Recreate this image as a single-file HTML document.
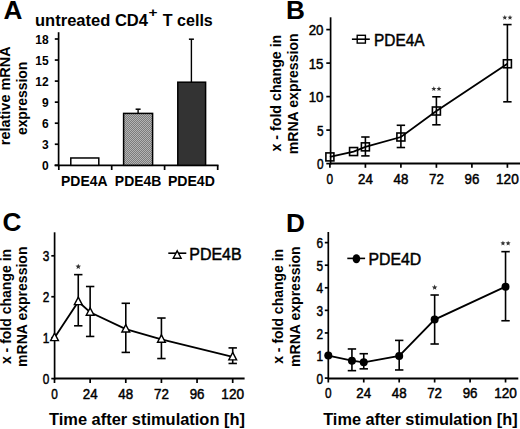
<!DOCTYPE html>
<html><head><meta charset="utf-8"><style>
html,body{margin:0;padding:0;background:#fff;width:520px;height:429px;overflow:hidden}
svg{display:block}
text{font-family:"Liberation Sans", sans-serif}
</style></head><body>
<svg width="520" height="429" viewBox="0 0 520 429">
<defs>
<pattern id="chk" width="2" height="2" patternUnits="userSpaceOnUse">
<rect width="2" height="2" fill="#7c7c7c"/><rect width="1" height="1" fill="#b4b4b4"/><rect x="1" y="1" width="1" height="1" fill="#b4b4b4"/>
</pattern>
</defs>
<text x="3.4" y="18.9" font-size="26.2" font-weight="bold" text-anchor="start" fill="#000">A</text>
<text x="35" y="25.7" font-size="16.5" font-weight="bold" text-anchor="start" fill="#000" textLength="113" lengthAdjust="spacingAndGlyphs">untreated CD4</text>
<text x="148.6" y="17.2" font-size="13.5" font-weight="bold" text-anchor="start" fill="#000" textLength="9" lengthAdjust="spacingAndGlyphs">+</text>
<text x="162.8" y="25.7" font-size="16.5" font-weight="bold" text-anchor="start" fill="#000" textLength="50" lengthAdjust="spacingAndGlyphs">T cells</text>
<text x="9.8" y="95.8" font-size="14" font-weight="bold" text-anchor="middle" fill="#000" textLength="98.7" lengthAdjust="spacingAndGlyphs" transform="rotate(-90 9.8 95.8)">relative mRNA</text>
<text x="27" y="98.4" font-size="14" font-weight="bold" text-anchor="middle" fill="#000" textLength="73.4" lengthAdjust="spacingAndGlyphs" transform="rotate(-90 27 98.4)">expression</text>
<line x1="58.6" y1="32.2" x2="58.6" y2="166.15" stroke="#000" stroke-width="1.7"/>
<line x1="54.6" y1="165.3" x2="218.5" y2="165.3" stroke="#000" stroke-width="1.7"/>
<line x1="54.8" y1="165.3" x2="58.6" y2="165.3" stroke="#000" stroke-width="1.7"/>
<text x="48.6" y="169.9" font-size="12" font-weight="bold" text-anchor="end" fill="#000">0</text>
<line x1="54.8" y1="144.25" x2="58.6" y2="144.25" stroke="#000" stroke-width="1.7"/>
<text x="48.6" y="148.85" font-size="12" font-weight="bold" text-anchor="end" fill="#000">3</text>
<line x1="54.8" y1="123.20000000000002" x2="58.6" y2="123.20000000000002" stroke="#000" stroke-width="1.7"/>
<text x="48.6" y="127.80000000000001" font-size="12" font-weight="bold" text-anchor="end" fill="#000">6</text>
<line x1="54.8" y1="102.15" x2="58.6" y2="102.15" stroke="#000" stroke-width="1.7"/>
<text x="48.6" y="106.75" font-size="12" font-weight="bold" text-anchor="end" fill="#000">9</text>
<line x1="54.8" y1="81.10000000000001" x2="58.6" y2="81.10000000000001" stroke="#000" stroke-width="1.7"/>
<text x="48.6" y="85.7" font-size="12" font-weight="bold" text-anchor="end" fill="#000">12</text>
<line x1="54.8" y1="60.05000000000001" x2="58.6" y2="60.05000000000001" stroke="#000" stroke-width="1.7"/>
<text x="48.6" y="64.65" font-size="12" font-weight="bold" text-anchor="end" fill="#000">15</text>
<line x1="54.8" y1="39.000000000000014" x2="58.6" y2="39.000000000000014" stroke="#000" stroke-width="1.7"/>
<text x="48.6" y="43.600000000000016" font-size="12" font-weight="bold" text-anchor="end" fill="#000">18</text>
<line x1="58.8" y1="165.3" x2="58.8" y2="170" stroke="#000" stroke-width="1.7"/>
<line x1="111.7" y1="165.3" x2="111.7" y2="170" stroke="#000" stroke-width="1.7"/>
<line x1="164.6" y1="165.3" x2="164.6" y2="170" stroke="#000" stroke-width="1.7"/>
<line x1="217.7" y1="165.3" x2="217.7" y2="170" stroke="#000" stroke-width="1.7"/>
<rect x="70.8" y="157.98333333333332" width="28" height="7.316666666666666" fill="#fff" stroke="#000" stroke-width="1.5"/>
<rect x="123.6" y="113.4" width="29" height="51.900000000000006" fill="url(#chk)" stroke="#000" stroke-width="1.5"/>
<rect x="177.8" y="82.2" width="27.8" height="83.10000000000001" fill="#333" stroke="#000" stroke-width="1.5"/>
<line x1="138.1" y1="113.4" x2="138.1" y2="109.2" stroke="#000" stroke-width="1.4"/>
<line x1="135.6" y1="109.2" x2="140.6" y2="109.2" stroke="#000" stroke-width="1.5"/>
<line x1="191.4" y1="82.2" x2="191.4" y2="39.2" stroke="#000" stroke-width="1.4"/>
<line x1="188.9" y1="39.2" x2="193.9" y2="39.2" stroke="#000" stroke-width="1.5"/>
<text x="84.3" y="185.9" font-size="14.5" font-weight="bold" text-anchor="middle" fill="#000" textLength="46.5" lengthAdjust="spacingAndGlyphs">PDE4A</text>
<text x="138.1" y="185.9" font-size="14.5" font-weight="bold" text-anchor="middle" fill="#000" textLength="46.5" lengthAdjust="spacingAndGlyphs">PDE4B</text>
<text x="191.4" y="185.9" font-size="14.5" font-weight="bold" text-anchor="middle" fill="#000" textLength="47" lengthAdjust="spacingAndGlyphs">PDE4D</text>
<text x="286.0" y="18.9" font-size="26.2" font-weight="bold" text-anchor="start" fill="#000">B</text>
<text x="281.1" y="93.1" font-size="14" font-weight="bold" text-anchor="middle" fill="#000" textLength="116.8" lengthAdjust="spacingAndGlyphs" transform="rotate(-90 281.1 93.1)">x - fold change in</text>
<text x="297.9" y="93.8" font-size="14" font-weight="bold" text-anchor="middle" fill="#000" textLength="121" lengthAdjust="spacingAndGlyphs" transform="rotate(-90 297.9 93.8)">mRNA expression</text>
<line x1="330.6" y1="17.3" x2="330.6" y2="164.6" stroke="#000" stroke-width="1.7"/>
<line x1="330.6" y1="163.6" x2="520" y2="163.6" stroke="#000" stroke-width="2"/>
<line x1="326.3" y1="163.6" x2="330.6" y2="163.6" stroke="#000" stroke-width="1.7"/>
<text x="323.5" y="169.39999999999998" font-size="14.8" font-weight="normal" text-anchor="end" fill="#000" transform="translate(323.5 169.39999999999998) scale(0.8 1) translate(-323.5 -169.39999999999998)" stroke="#000" stroke-width="0.5">0</text>
<line x1="326.3" y1="130.1" x2="330.6" y2="130.1" stroke="#000" stroke-width="1.7"/>
<text x="323.5" y="135.89999999999998" font-size="14.8" font-weight="normal" text-anchor="end" fill="#000" transform="translate(323.5 135.89999999999998) scale(0.8 1) translate(-323.5 -135.89999999999998)" stroke="#000" stroke-width="0.5">5</text>
<line x1="326.3" y1="96.6" x2="330.6" y2="96.6" stroke="#000" stroke-width="1.7"/>
<text x="323.5" y="102.39999999999999" font-size="14.8" font-weight="normal" text-anchor="end" fill="#000" transform="translate(323.5 102.39999999999999) scale(0.9 1) translate(-323.5 -102.39999999999999)" stroke="#000" stroke-width="0.5">10</text>
<line x1="326.3" y1="63.099999999999994" x2="330.6" y2="63.099999999999994" stroke="#000" stroke-width="1.7"/>
<text x="323.5" y="68.89999999999999" font-size="14.8" font-weight="normal" text-anchor="end" fill="#000" transform="translate(323.5 68.89999999999999) scale(0.9 1) translate(-323.5 -68.89999999999999)" stroke="#000" stroke-width="0.5">15</text>
<line x1="326.3" y1="29.599999999999994" x2="330.6" y2="29.599999999999994" stroke="#000" stroke-width="1.7"/>
<text x="323.5" y="35.4" font-size="14.8" font-weight="normal" text-anchor="end" fill="#000" transform="translate(323.5 35.4) scale(0.9 1) translate(-323.5 -35.4)" stroke="#000" stroke-width="0.5">20</text>
<line x1="329.9" y1="163.6" x2="329.9" y2="167.8" stroke="#000" stroke-width="1.7"/>
<text x="329.9" y="183.7" font-size="14.8" font-weight="normal" text-anchor="middle" fill="#000" transform="translate(329.9 183.7) scale(0.8 1) translate(-329.9 -183.7)" stroke="#000" stroke-width="0.5">0</text>
<line x1="365.4" y1="163.6" x2="365.4" y2="167.8" stroke="#000" stroke-width="1.7"/>
<text x="365.4" y="183.7" font-size="14.8" font-weight="normal" text-anchor="middle" fill="#000" transform="translate(365.4 183.7) scale(0.9 1) translate(-365.4 -183.7)" stroke="#000" stroke-width="0.5">24</text>
<line x1="400.9" y1="163.6" x2="400.9" y2="167.8" stroke="#000" stroke-width="1.7"/>
<text x="400.9" y="183.7" font-size="14.8" font-weight="normal" text-anchor="middle" fill="#000" transform="translate(400.9 183.7) scale(0.9 1) translate(-400.9 -183.7)" stroke="#000" stroke-width="0.5">48</text>
<line x1="436.4" y1="163.6" x2="436.4" y2="167.8" stroke="#000" stroke-width="1.7"/>
<text x="436.4" y="183.7" font-size="14.8" font-weight="normal" text-anchor="middle" fill="#000" transform="translate(436.4 183.7) scale(0.9 1) translate(-436.4 -183.7)" stroke="#000" stroke-width="0.5">72</text>
<line x1="471.9" y1="163.6" x2="471.9" y2="167.8" stroke="#000" stroke-width="1.7"/>
<text x="471.9" y="183.7" font-size="14.8" font-weight="normal" text-anchor="middle" fill="#000" transform="translate(471.9 183.7) scale(0.9 1) translate(-471.9 -183.7)" stroke="#000" stroke-width="0.5">96</text>
<line x1="507.4" y1="163.6" x2="507.4" y2="167.8" stroke="#000" stroke-width="1.7"/>
<text x="507.4" y="183.7" font-size="14.8" font-weight="normal" text-anchor="middle" fill="#000" transform="translate(507.4 183.7) scale(0.92 1) translate(-507.4 -183.7)" stroke="#000" stroke-width="0.5">120</text>
<polyline points="329.90,156.90 353.57,151.54 365.40,146.85 400.90,137.00 436.40,111.00 507.40,63.77" fill="none" stroke="#000" stroke-width="1.8"/>
<line x1="365.4" y1="137.00099999999998" x2="365.4" y2="155.89499999999998" stroke="#000" stroke-width="1.6"/>
<line x1="361.2" y1="137.00099999999998" x2="369.59999999999997" y2="137.00099999999998" stroke="#000" stroke-width="1.6"/>
<line x1="361.2" y1="155.89499999999998" x2="369.59999999999997" y2="155.89499999999998" stroke="#000" stroke-width="1.6"/>
<line x1="400.9" y1="125.276" x2="400.9" y2="147.51999999999998" stroke="#000" stroke-width="1.6"/>
<line x1="396.7" y1="125.276" x2="405.09999999999997" y2="125.276" stroke="#000" stroke-width="1.6"/>
<line x1="396.7" y1="147.51999999999998" x2="405.09999999999997" y2="147.51999999999998" stroke="#000" stroke-width="1.6"/>
<line x1="436.4" y1="96.80099999999999" x2="436.4" y2="124.80699999999999" stroke="#000" stroke-width="1.6"/>
<line x1="432.2" y1="96.80099999999999" x2="440.59999999999997" y2="96.80099999999999" stroke="#000" stroke-width="1.6"/>
<line x1="432.2" y1="124.80699999999999" x2="440.59999999999997" y2="124.80699999999999" stroke="#000" stroke-width="1.6"/>
<line x1="507.4" y1="24.57499999999999" x2="507.4" y2="101.826" stroke="#000" stroke-width="1.6"/>
<line x1="503.2" y1="24.57499999999999" x2="511.59999999999997" y2="24.57499999999999" stroke="#000" stroke-width="1.6"/>
<line x1="503.2" y1="101.826" x2="511.59999999999997" y2="101.826" stroke="#000" stroke-width="1.6"/>
<rect x="325.9" y="152.9" width="8" height="8" fill="none" stroke="#000" stroke-width="1.6"/>
<rect x="349.56666666666666" y="147.54" width="8" height="8" fill="none" stroke="#000" stroke-width="1.6"/>
<rect x="361.4" y="142.85" width="8" height="8" fill="none" stroke="#000" stroke-width="1.6"/>
<rect x="396.9" y="133.00099999999998" width="8" height="8" fill="none" stroke="#000" stroke-width="1.6"/>
<rect x="432.4" y="107.005" width="8" height="8" fill="none" stroke="#000" stroke-width="1.6"/>
<rect x="503.4" y="59.769999999999996" width="8" height="8" fill="none" stroke="#000" stroke-width="1.6"/>
<polygon points="433.80,86.30 434.49,87.95 436.27,88.10 434.91,89.26 435.33,91.00 433.80,90.07 432.27,91.00 432.69,89.26 431.33,88.10 433.11,87.95" fill="#333"/>
<polygon points="439.00,86.30 439.69,87.95 441.47,88.10 440.11,89.26 440.53,91.00 439.00,90.07 437.47,91.00 437.89,89.26 436.53,88.10 438.31,87.95" fill="#333"/>
<polygon points="504.80,15.00 505.49,16.65 507.27,16.80 505.91,17.96 506.33,19.70 504.80,18.77 503.27,19.70 503.69,17.96 502.33,16.80 504.11,16.65" fill="#333"/>
<polygon points="510.00,15.00 510.69,16.65 512.47,16.80 511.11,17.96 511.53,19.70 510.00,18.77 508.47,19.70 508.89,17.96 507.53,16.80 509.31,16.65" fill="#333"/>
<line x1="351.9" y1="39.2" x2="369.8" y2="39.2" stroke="#000" stroke-width="1.6"/>
<rect x="357.2" y="35.3" width="8.2" height="7.8" fill="none" stroke="#000" stroke-width="1.4"/>
<text x="374.1" y="45.7" font-size="16" font-weight="normal" text-anchor="start" fill="#000" textLength="50.5" lengthAdjust="spacingAndGlyphs" stroke="#000" stroke-width="0.45">PDE4A</text>
<text x="2.5" y="230.7" font-size="26.2" font-weight="bold" text-anchor="start" fill="#000">C</text>
<text x="10.5" y="306.5" font-size="14" font-weight="bold" text-anchor="middle" fill="#000" textLength="115.2" lengthAdjust="spacingAndGlyphs" transform="rotate(-90 10.5 306.5)">x - fold change in</text>
<text x="27.1" y="306.7" font-size="14" font-weight="bold" text-anchor="middle" fill="#000" textLength="120.4" lengthAdjust="spacingAndGlyphs" transform="rotate(-90 27.1 306.7)">mRNA expression</text>
<line x1="54.6" y1="232.3" x2="54.6" y2="379.6" stroke="#000" stroke-width="1.7"/>
<line x1="54.6" y1="378.6" x2="244.6" y2="378.6" stroke="#000" stroke-width="2"/>
<line x1="51.3" y1="378.6" x2="54.6" y2="378.6" stroke="#000" stroke-width="1.7"/>
<text x="49.3" y="384.20000000000005" font-size="14.8" font-weight="normal" text-anchor="end" fill="#000" transform="translate(49.3 384.20000000000005) scale(0.8 1) translate(-49.3 -384.20000000000005)" stroke="#000" stroke-width="0.5">0</text>
<line x1="51.3" y1="337.67" x2="54.6" y2="337.67" stroke="#000" stroke-width="1.7"/>
<text x="49.3" y="343.27000000000004" font-size="14.8" font-weight="normal" text-anchor="end" fill="#000" transform="translate(49.3 343.27000000000004) scale(0.8 1) translate(-49.3 -343.27000000000004)" stroke="#000" stroke-width="0.5">1</text>
<line x1="51.3" y1="296.74" x2="54.6" y2="296.74" stroke="#000" stroke-width="1.7"/>
<text x="49.3" y="302.34000000000003" font-size="14.8" font-weight="normal" text-anchor="end" fill="#000" transform="translate(49.3 302.34000000000003) scale(0.8 1) translate(-49.3 -302.34000000000003)" stroke="#000" stroke-width="0.5">2</text>
<line x1="51.3" y1="255.81000000000003" x2="54.6" y2="255.81000000000003" stroke="#000" stroke-width="1.7"/>
<text x="49.3" y="261.4100000000001" font-size="14.8" font-weight="normal" text-anchor="end" fill="#000" transform="translate(49.3 261.4100000000001) scale(0.8 1) translate(-49.3 -261.4100000000001)" stroke="#000" stroke-width="0.5">3</text>
<line x1="54.5" y1="378.6" x2="54.5" y2="383" stroke="#000" stroke-width="1.7"/>
<text x="54.5" y="398.90000000000003" font-size="14.8" font-weight="normal" text-anchor="middle" fill="#000" transform="translate(54.5 398.90000000000003) scale(0.8 1) translate(-54.5 -398.90000000000003)" stroke="#000" stroke-width="0.5">0</text>
<line x1="90.14" y1="378.6" x2="90.14" y2="383" stroke="#000" stroke-width="1.7"/>
<text x="90.14" y="398.90000000000003" font-size="14.8" font-weight="normal" text-anchor="middle" fill="#000" transform="translate(90.14 398.90000000000003) scale(0.9 1) translate(-90.14 -398.90000000000003)" stroke="#000" stroke-width="0.5">24</text>
<line x1="125.78" y1="378.6" x2="125.78" y2="383" stroke="#000" stroke-width="1.7"/>
<text x="125.78" y="398.90000000000003" font-size="14.8" font-weight="normal" text-anchor="middle" fill="#000" transform="translate(125.78 398.90000000000003) scale(0.9 1) translate(-125.78 -398.90000000000003)" stroke="#000" stroke-width="0.5">48</text>
<line x1="161.42000000000002" y1="378.6" x2="161.42000000000002" y2="383" stroke="#000" stroke-width="1.7"/>
<text x="161.42000000000002" y="398.90000000000003" font-size="14.8" font-weight="normal" text-anchor="middle" fill="#000" transform="translate(161.42000000000002 398.90000000000003) scale(0.9 1) translate(-161.42000000000002 -398.90000000000003)" stroke="#000" stroke-width="0.5">72</text>
<line x1="197.06" y1="378.6" x2="197.06" y2="383" stroke="#000" stroke-width="1.7"/>
<text x="197.06" y="398.90000000000003" font-size="14.8" font-weight="normal" text-anchor="middle" fill="#000" transform="translate(197.06 398.90000000000003) scale(0.9 1) translate(-197.06 -398.90000000000003)" stroke="#000" stroke-width="0.5">96</text>
<line x1="232.70000000000002" y1="378.6" x2="232.70000000000002" y2="383" stroke="#000" stroke-width="1.7"/>
<text x="232.70000000000002" y="398.90000000000003" font-size="14.8" font-weight="normal" text-anchor="middle" fill="#000" transform="translate(232.70000000000002 398.90000000000003) scale(0.92 1) translate(-232.70000000000002 -398.90000000000003)" stroke="#000" stroke-width="0.5">120</text>
<polyline points="54.50,337.67 78.26,301.65 90.14,312.29 125.78,329.07 161.42,339.31 232.70,356.91" fill="none" stroke="#000" stroke-width="1.8"/>
<line x1="78.26" y1="274.6378" x2="78.26" y2="325.8003" stroke="#000" stroke-width="1.6"/>
<line x1="74.06" y1="274.6378" x2="82.46000000000001" y2="274.6378" stroke="#000" stroke-width="1.6"/>
<line x1="74.06" y1="325.8003" x2="82.46000000000001" y2="325.8003" stroke="#000" stroke-width="1.6"/>
<line x1="90.14" y1="286.50750000000005" x2="90.14" y2="336.44210000000004" stroke="#000" stroke-width="1.6"/>
<line x1="85.94" y1="286.50750000000005" x2="94.34" y2="286.50750000000005" stroke="#000" stroke-width="1.6"/>
<line x1="85.94" y1="336.44210000000004" x2="94.34" y2="336.44210000000004" stroke="#000" stroke-width="1.6"/>
<line x1="125.78" y1="303.28880000000004" x2="125.78" y2="352.4048" stroke="#000" stroke-width="1.6"/>
<line x1="121.58" y1="303.28880000000004" x2="129.98" y2="303.28880000000004" stroke="#000" stroke-width="1.6"/>
<line x1="121.58" y1="352.4048" x2="129.98" y2="352.4048" stroke="#000" stroke-width="1.6"/>
<line x1="161.42000000000002" y1="318.02360000000004" x2="161.42000000000002" y2="358.5443" stroke="#000" stroke-width="1.6"/>
<line x1="157.22000000000003" y1="318.02360000000004" x2="165.62" y2="318.02360000000004" stroke="#000" stroke-width="1.6"/>
<line x1="157.22000000000003" y1="358.5443" x2="165.62" y2="358.5443" stroke="#000" stroke-width="1.6"/>
<line x1="232.70000000000002" y1="347.90250000000003" x2="232.70000000000002" y2="363.45590000000004" stroke="#000" stroke-width="1.6"/>
<line x1="228.50000000000003" y1="347.90250000000003" x2="236.9" y2="347.90250000000003" stroke="#000" stroke-width="1.6"/>
<line x1="228.50000000000003" y1="363.45590000000004" x2="236.9" y2="363.45590000000004" stroke="#000" stroke-width="1.6"/>
<polygon points="54.50,333.19 58.40,340.60 50.60,340.60" fill="#fff" stroke="#000" stroke-width="1.4" stroke-linejoin="miter"/>
<polygon points="78.26,297.18 82.16,304.59 74.36,304.59" fill="#fff" stroke="#000" stroke-width="1.4" stroke-linejoin="miter"/>
<polygon points="90.14,307.82 94.04,315.23 86.24,315.23" fill="#fff" stroke="#000" stroke-width="1.4" stroke-linejoin="miter"/>
<polygon points="125.78,324.60 129.68,332.01 121.88,332.01" fill="#fff" stroke="#000" stroke-width="1.4" stroke-linejoin="miter"/>
<polygon points="161.42,334.83 165.32,342.24 157.52,342.24" fill="#fff" stroke="#000" stroke-width="1.4" stroke-linejoin="miter"/>
<polygon points="232.70,352.43 236.60,359.84 228.80,359.84" fill="#fff" stroke="#000" stroke-width="1.4" stroke-linejoin="miter"/>
<polygon points="78.26,263.70 79.03,265.54 81.02,265.70 79.50,267.00 79.96,268.95 78.26,267.91 76.56,268.95 77.02,267.00 75.50,265.70 77.49,265.54" fill="#333"/>
<line x1="168.3" y1="253.2" x2="186.3" y2="253.2" stroke="#000" stroke-width="1.6"/>
<polygon points="177.20,250.82 181.10,258.23 173.30,258.23" fill="#fff" stroke="#000" stroke-width="1.4" stroke-linejoin="miter"/>
<text x="189.3" y="260.0" font-size="16" font-weight="normal" text-anchor="start" fill="#000" textLength="52.3" lengthAdjust="spacingAndGlyphs" stroke="#000" stroke-width="0.45">PDE4B</text>
<text x="49" y="424.9" font-size="16.5" font-weight="bold" text-anchor="start" fill="#000" textLength="196" lengthAdjust="spacingAndGlyphs">Time after stimulation [h]</text>
<text x="286.1" y="231.5" font-size="26.2" font-weight="bold" text-anchor="start" fill="#000">D</text>
<text x="283" y="306.35" font-size="14" font-weight="bold" text-anchor="middle" fill="#000" textLength="114.9" lengthAdjust="spacingAndGlyphs" transform="rotate(-90 283 306.35)">x - fold change in</text>
<text x="299.6" y="306.65" font-size="14" font-weight="bold" text-anchor="middle" fill="#000" textLength="120.7" lengthAdjust="spacingAndGlyphs" transform="rotate(-90 299.6 306.65)">mRNA expression</text>
<line x1="328.3" y1="232" x2="328.3" y2="379.1" stroke="#000" stroke-width="1.7"/>
<line x1="328.3" y1="378.40000000000003" x2="518.3" y2="378.40000000000003" stroke="#000" stroke-width="2"/>
<line x1="324.8" y1="378.1" x2="328.3" y2="378.1" stroke="#000" stroke-width="1.7"/>
<text x="323" y="383.70000000000005" font-size="14.8" font-weight="normal" text-anchor="end" fill="#000" transform="translate(323 383.70000000000005) scale(0.8 1) translate(-323 -383.70000000000005)" stroke="#000" stroke-width="0.5">0</text>
<line x1="324.8" y1="355.52000000000004" x2="328.3" y2="355.52000000000004" stroke="#000" stroke-width="1.7"/>
<text x="323" y="361.12000000000006" font-size="14.8" font-weight="normal" text-anchor="end" fill="#000" transform="translate(323 361.12000000000006) scale(0.8 1) translate(-323 -361.12000000000006)" stroke="#000" stroke-width="0.5">1</text>
<line x1="324.8" y1="332.94000000000005" x2="328.3" y2="332.94000000000005" stroke="#000" stroke-width="1.7"/>
<text x="323" y="338.5400000000001" font-size="14.8" font-weight="normal" text-anchor="end" fill="#000" transform="translate(323 338.5400000000001) scale(0.8 1) translate(-323 -338.5400000000001)" stroke="#000" stroke-width="0.5">2</text>
<line x1="324.8" y1="310.36" x2="328.3" y2="310.36" stroke="#000" stroke-width="1.7"/>
<text x="323" y="315.96000000000004" font-size="14.8" font-weight="normal" text-anchor="end" fill="#000" transform="translate(323 315.96000000000004) scale(0.8 1) translate(-323 -315.96000000000004)" stroke="#000" stroke-width="0.5">3</text>
<line x1="324.8" y1="287.78000000000003" x2="328.3" y2="287.78000000000003" stroke="#000" stroke-width="1.7"/>
<text x="323" y="293.38000000000005" font-size="14.8" font-weight="normal" text-anchor="end" fill="#000" transform="translate(323 293.38000000000005) scale(0.8 1) translate(-323 -293.38000000000005)" stroke="#000" stroke-width="0.5">4</text>
<line x1="324.8" y1="265.20000000000005" x2="328.3" y2="265.20000000000005" stroke="#000" stroke-width="1.7"/>
<text x="323" y="270.80000000000007" font-size="14.8" font-weight="normal" text-anchor="end" fill="#000" transform="translate(323 270.80000000000007) scale(0.8 1) translate(-323 -270.80000000000007)" stroke="#000" stroke-width="0.5">5</text>
<line x1="324.8" y1="242.62000000000003" x2="328.3" y2="242.62000000000003" stroke="#000" stroke-width="1.7"/>
<text x="323" y="248.22000000000003" font-size="14.8" font-weight="normal" text-anchor="end" fill="#000" transform="translate(323 248.22000000000003) scale(0.8 1) translate(-323 -248.22000000000003)" stroke="#000" stroke-width="0.5">6</text>
<line x1="328.3" y1="378.1" x2="328.3" y2="382.5" stroke="#000" stroke-width="1.7"/>
<text x="328.3" y="398.40000000000003" font-size="14.8" font-weight="normal" text-anchor="middle" fill="#000" transform="translate(328.3 398.40000000000003) scale(0.8 1) translate(-328.3 -398.40000000000003)" stroke="#000" stroke-width="0.5">0</text>
<line x1="363.748" y1="378.1" x2="363.748" y2="382.5" stroke="#000" stroke-width="1.7"/>
<text x="363.748" y="398.40000000000003" font-size="14.8" font-weight="normal" text-anchor="middle" fill="#000" transform="translate(363.748 398.40000000000003) scale(0.9 1) translate(-363.748 -398.40000000000003)" stroke="#000" stroke-width="0.5">24</text>
<line x1="399.196" y1="378.1" x2="399.196" y2="382.5" stroke="#000" stroke-width="1.7"/>
<text x="399.196" y="398.40000000000003" font-size="14.8" font-weight="normal" text-anchor="middle" fill="#000" transform="translate(399.196 398.40000000000003) scale(0.9 1) translate(-399.196 -398.40000000000003)" stroke="#000" stroke-width="0.5">48</text>
<line x1="434.644" y1="378.1" x2="434.644" y2="382.5" stroke="#000" stroke-width="1.7"/>
<text x="434.644" y="398.40000000000003" font-size="14.8" font-weight="normal" text-anchor="middle" fill="#000" transform="translate(434.644 398.40000000000003) scale(0.9 1) translate(-434.644 -398.40000000000003)" stroke="#000" stroke-width="0.5">72</text>
<line x1="470.092" y1="378.1" x2="470.092" y2="382.5" stroke="#000" stroke-width="1.7"/>
<text x="470.092" y="398.40000000000003" font-size="14.8" font-weight="normal" text-anchor="middle" fill="#000" transform="translate(470.092 398.40000000000003) scale(0.9 1) translate(-470.092 -398.40000000000003)" stroke="#000" stroke-width="0.5">96</text>
<line x1="505.54" y1="378.1" x2="505.54" y2="382.5" stroke="#000" stroke-width="1.7"/>
<text x="505.54" y="398.40000000000003" font-size="14.8" font-weight="normal" text-anchor="middle" fill="#000" transform="translate(505.54 398.40000000000003) scale(0.92 1) translate(-505.54 -398.40000000000003)" stroke="#000" stroke-width="0.5">120</text>
<polyline points="328.30,355.52 351.93,360.71 363.75,362.29 399.20,355.97 434.64,319.62 505.54,286.65" fill="none" stroke="#000" stroke-width="1.8"/>
<line x1="351.932" y1="348.97180000000003" x2="351.932" y2="370.64860000000004" stroke="#000" stroke-width="1.6"/>
<line x1="347.732" y1="348.97180000000003" x2="356.132" y2="348.97180000000003" stroke="#000" stroke-width="1.6"/>
<line x1="347.732" y1="370.64860000000004" x2="356.132" y2="370.64860000000004" stroke="#000" stroke-width="1.6"/>
<line x1="363.748" y1="353.71360000000004" x2="363.748" y2="368.84220000000005" stroke="#000" stroke-width="1.6"/>
<line x1="359.548" y1="353.71360000000004" x2="367.948" y2="353.71360000000004" stroke="#000" stroke-width="1.6"/>
<line x1="359.548" y1="368.84220000000005" x2="367.948" y2="368.84220000000005" stroke="#000" stroke-width="1.6"/>
<line x1="399.196" y1="340.39140000000003" x2="399.196" y2="369.9712" stroke="#000" stroke-width="1.6"/>
<line x1="394.99600000000004" y1="340.39140000000003" x2="403.396" y2="340.39140000000003" stroke="#000" stroke-width="1.6"/>
<line x1="394.99600000000004" y1="369.9712" x2="403.396" y2="369.9712" stroke="#000" stroke-width="1.6"/>
<line x1="434.644" y1="295.0056" x2="434.644" y2="344.0042" stroke="#000" stroke-width="1.6"/>
<line x1="430.444" y1="295.0056" x2="438.844" y2="295.0056" stroke="#000" stroke-width="1.6"/>
<line x1="430.444" y1="344.0042" x2="438.844" y2="344.0042" stroke="#000" stroke-width="1.6"/>
<line x1="505.54" y1="251.65200000000004" x2="505.54" y2="320.7468" stroke="#000" stroke-width="1.6"/>
<line x1="501.34000000000003" y1="251.65200000000004" x2="509.74" y2="251.65200000000004" stroke="#000" stroke-width="1.6"/>
<line x1="501.34000000000003" y1="320.7468" x2="509.74" y2="320.7468" stroke="#000" stroke-width="1.6"/>
<circle cx="328.30" cy="355.52" r="4" fill="#000"/>
<circle cx="351.93" cy="360.71" r="4" fill="#000"/>
<circle cx="363.75" cy="362.29" r="4" fill="#000"/>
<circle cx="399.20" cy="355.97" r="4" fill="#000"/>
<circle cx="434.64" cy="319.62" r="4" fill="#000"/>
<circle cx="505.54" cy="286.65" r="4" fill="#000"/>
<polygon points="434.64,284.60 435.41,286.44 437.40,286.60 435.89,287.90 436.35,289.85 434.64,288.81 432.94,289.85 433.40,287.90 431.89,286.60 433.88,286.44" fill="#333"/>
<polygon points="502.94,240.70 503.63,242.35 505.41,242.50 504.05,243.66 504.47,245.40 502.94,244.47 501.41,245.40 501.83,243.66 500.47,242.50 502.25,242.35" fill="#333"/>
<polygon points="508.14,240.70 508.83,242.35 510.61,242.50 509.25,243.66 509.67,245.40 508.14,244.47 506.61,245.40 507.03,243.66 505.67,242.50 507.45,242.35" fill="#333"/>
<line x1="347.3" y1="258.4" x2="365.1" y2="258.4" stroke="#000" stroke-width="1.6"/>
<ellipse cx="356.4" cy="258.8" rx="3.8" ry="4.5" fill="#000"/>
<text x="368.4" y="264.8" font-size="16" font-weight="normal" text-anchor="start" fill="#000" textLength="52.8" lengthAdjust="spacingAndGlyphs" stroke="#000" stroke-width="0.45">PDE4D</text>
<text x="323.2" y="424.9" font-size="16.5" font-weight="bold" text-anchor="start" fill="#000" textLength="194.5" lengthAdjust="spacingAndGlyphs">Time after stimulation [h]</text>
</svg>
</body></html>
